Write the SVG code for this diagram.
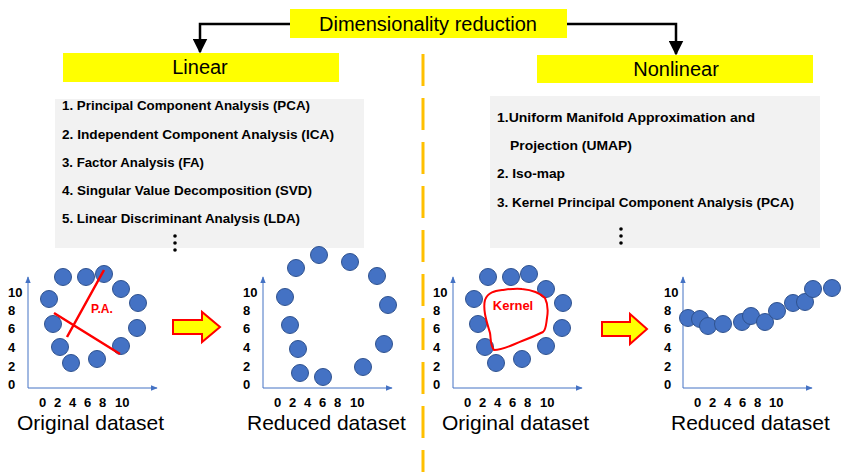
<svg xmlns="http://www.w3.org/2000/svg" width="850" height="472" viewBox="0 0 850 472">
<defs>
<style>
.t{font-family:"Liberation Sans",Arial,sans-serif;fill:#000}
.li{font-size:13px;font-weight:bold}
.ax{font-size:13px;font-weight:bold}
.cap{font-size:21px}
.d{fill:#4472C4;stroke:#2F528F;stroke-width:1}
.axis{stroke:#4472C4;stroke-width:1;fill:none}
.yl{fill:#FFFF00}
</style>
<marker id="ah" viewBox="0 0 10 10" refX="9" refY="5" markerWidth="6" markerHeight="6" orient="auto"><path d="M0,0L10,5L0,10z" fill="#000"/></marker>
<marker id="ab" viewBox="0 0 10 10" refX="9" refY="5" markerWidth="7" markerHeight="7" orient="auto"><path d="M0,1L10,5L0,9z" fill="#4472C4"/></marker>
<g id="dotsC">
<circle class="d" cx="63" cy="277" r="8.5"/><circle class="d" cx="86" cy="277" r="8.5"/><circle class="d" cx="104" cy="274" r="8.5"/><circle class="d" cx="121" cy="289" r="8.5"/><circle class="d" cx="138" cy="303" r="8.5"/><circle class="d" cx="137" cy="328" r="8.5"/><circle class="d" cx="121" cy="346" r="8.5"/><circle class="d" cx="97" cy="359" r="8.5"/><circle class="d" cx="71" cy="363" r="8.5"/><circle class="d" cx="60" cy="347" r="8.5"/><circle class="d" cx="53" cy="324" r="8.5"/><circle class="d" cx="49" cy="299" r="8.5"/>
</g>
<g id="axesO">
<path class="axis" d="M28,388V277" marker-end="url(#ab)"/><path class="axis" d="M28,388H157" marker-end="url(#ab)"/>
<g class="t ax"><text x="8" y="297">10</text><text x="8" y="315">8</text><text x="8" y="333">6</text><text x="8" y="352">4</text><text x="8" y="371">2</text><text x="8" y="389">0</text>
<text x="39" y="407">0</text><text x="54" y="407">2</text><text x="69" y="407">4</text><text x="84" y="407">6</text><text x="99" y="407">8</text><text x="115" y="407">10</text></g>
<text class="t cap" x="17" y="430">Original dataset</text>
</g>
</defs>

<line x1="423" y1="54" x2="423" y2="472" stroke="#FFC000" stroke-width="3" stroke-dasharray="32,12"/>

<g id="connectors" fill="none" stroke="#000" stroke-width="2.5">
<path d="M293,24H200V52" marker-end="url(#ah)"/>
<path d="M567,24H676V54" marker-end="url(#ah)"/>
</g>

<g id="title"><rect class="yl" x="290" y="9" width="277" height="29"/><text class="t" x="428" y="31" font-size="20" text-anchor="middle">Dimensionality reduction</text></g>
<g id="linear"><rect class="yl" x="63" y="53" width="276" height="29"/><text class="t" x="200" y="74" font-size="20" text-anchor="middle">Linear</text></g>
<g id="nonlinear"><rect class="yl" x="537" y="55" width="276" height="28"/><text class="t" x="676" y="76" font-size="20" text-anchor="middle">Nonlinear</text></g>

<g id="linearList">
<rect x="55" y="99" width="309" height="149" fill="#F2F2F2"/>
<g class="t li">
<text x="62" y="110" textLength="248" lengthAdjust="spacingAndGlyphs">1. Principal Component Analysis (PCA)</text>
<text x="62" y="139" textLength="272" lengthAdjust="spacingAndGlyphs">2. Independent Component Analysis (ICA)</text>
<text x="62" y="167" textLength="142" lengthAdjust="spacingAndGlyphs">3. Factor Analysis (FA)</text>
<text x="62" y="195" textLength="250" lengthAdjust="spacingAndGlyphs">4. Singular Value Decomposition (SVD)</text>
<text x="62" y="223" textLength="238" lengthAdjust="spacingAndGlyphs">5. Linear Discriminant Analysis (LDA)</text>
</g>
<circle cx="175" cy="236" r="1.8"/><circle cx="175" cy="243" r="1.8"/><circle cx="175" cy="250" r="1.8"/>
</g>

<g id="nonlinearList">
<rect x="490" y="96" width="330" height="152" fill="#F2F2F2"/>
<g class="t li">
<text x="497" y="122" textLength="258" lengthAdjust="spacingAndGlyphs">1.Uniform Manifold Approximation and</text>
<text x="510" y="150" textLength="122" lengthAdjust="spacingAndGlyphs">Projection (UMAP)</text>
<text x="497" y="178" textLength="68" lengthAdjust="spacingAndGlyphs">2. Iso-map</text>
<text x="497" y="207" textLength="297" lengthAdjust="spacingAndGlyphs">3. Kernel Principal Component Analysis (PCA)</text>
</g>
<circle cx="621" cy="229" r="1.8"/><circle cx="621" cy="236" r="1.8"/><circle cx="621" cy="243" r="1.8"/>
</g>

<g id="originalLinear">
<use href="#axesO"/><use href="#dotsC"/>
<path d="M104,270L67,337M54,313L120,354" stroke="#FF0000" stroke-width="2.5" fill="none"/>
<text x="91" y="313" font-family="Liberation Sans,Arial,sans-serif" font-size="12" font-weight="bold" fill="#FF0000">P.A.</text>
</g>

<g id="arrow1"><path d="M173,320H202V312L220,327L202,342V334H173z" fill="#FFFF00" stroke="#FF0000" stroke-width="2"/></g>

<g id="reducedLinear">
<path class="axis" d="M263,388V277" marker-end="url(#ab)"/><path class="axis" d="M263,388H392" marker-end="url(#ab)"/>
<g class="t ax"><text x="243" y="297">10</text><text x="243" y="315">8</text><text x="243" y="333">6</text><text x="243" y="352">4</text><text x="243" y="371">2</text><text x="243" y="389">0</text>
<text x="274" y="407">0</text><text x="289" y="407">2</text><text x="304" y="407">4</text><text x="319" y="407">6</text><text x="334" y="407">8</text><text x="350" y="407">10</text></g>
<text class="t cap" x="247" y="430">Reduced dataset</text>
<circle class="d" cx="296" cy="268" r="8.5"/><circle class="d" cx="319" cy="255" r="8.5"/><circle class="d" cx="350" cy="262" r="8.5"/><circle class="d" cx="377" cy="276" r="8.5"/><circle class="d" cx="388" cy="305" r="8.5"/><circle class="d" cx="384" cy="344" r="8.5"/><circle class="d" cx="363" cy="367" r="8.5"/><circle class="d" cx="323" cy="377" r="8.5"/><circle class="d" cx="300" cy="373" r="8.5"/><circle class="d" cx="298" cy="349" r="8.5"/><circle class="d" cx="290" cy="325" r="8.5"/><circle class="d" cx="285" cy="297" r="8.5"/>
</g>

<g id="originalNonlinear">
<g transform="translate(425,0)"><use href="#axesO"/><use href="#dotsC"/></g>
<path d="M485,300C488,292 495,291 502,290C510,289 516,288 522,289C532,290 540,293 545,298C548,304 548,312 547,318C546,325 546,330 543,332C535,336 530,338 522,341C512,345 503,350 494,350C490,345 491,338 490,333C488,326 486,320 485,314C484,308 484,304 485,300z" fill="none" stroke="#FF0000" stroke-width="2"/>
<text x="513" y="310" font-family="Liberation Sans,Arial,sans-serif" font-size="13" font-weight="bold" fill="#FF0000" text-anchor="middle">Kernel</text>
</g>

<g id="arrow2"><path d="M602,322H630V314L647,329L630,344V336H602z" fill="#FFFF00" stroke="#FF0000" stroke-width="2"/></g>

<g id="reducedNonlinear">
<path class="axis" d="M683,388V277" marker-end="url(#ab)"/><path class="axis" d="M683,388H812" marker-end="url(#ab)"/>
<g class="t ax"><text x="664" y="297">10</text><text x="664" y="315">8</text><text x="664" y="333">6</text><text x="664" y="352">4</text><text x="664" y="371">2</text><text x="664" y="389">0</text>
<text x="694" y="407">0</text><text x="709" y="407">2</text><text x="724" y="407">4</text><text x="739" y="407">6</text><text x="754" y="407">8</text><text x="769" y="407">10</text></g>
<text class="t cap" x="671" y="430">Reduced dataset</text>
<circle class="d" cx="688" cy="318" r="8.5"/><circle class="d" cx="700" cy="319" r="8.5"/><circle class="d" cx="708" cy="326" r="8.5"/><circle class="d" cx="723" cy="324" r="8.5"/><circle class="d" cx="742" cy="322" r="8.5"/><circle class="d" cx="751" cy="316" r="8.5"/><circle class="d" cx="765" cy="322" r="8.5"/><circle class="d" cx="777" cy="311" r="8.5"/><circle class="d" cx="793" cy="303" r="8.5"/><circle class="d" cx="805" cy="302" r="8.5"/><circle class="d" cx="813" cy="289" r="8.5"/><circle class="d" cx="832" cy="288" r="8.5"/>
</g>
</svg>
